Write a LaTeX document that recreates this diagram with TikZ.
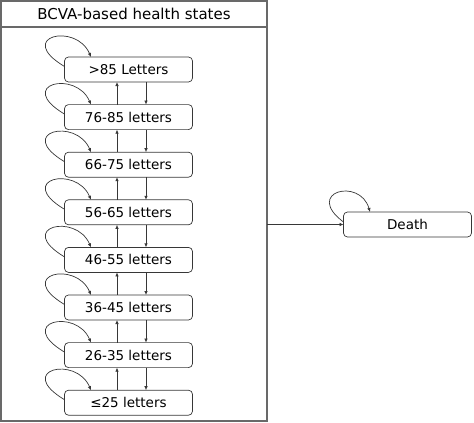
\documentclass[tikz,border=0pt]{standalone}
\usepackage{fontspec}
\setmainfont{DejaVu Sans}
\usetikzlibrary{arrows.meta,positioning}
\definecolor{edge}{RGB}{55,55,55}
\definecolor{frame}{RGB}{105,105,105}

\begin{document}
\begin{tikzpicture}[
    x=1pt, y=1pt,
    node distance=22.6pt,
    state/.style={rectangle, draw=edge, line width=0.7pt, rounded corners=4pt, minimum width=128pt, minimum height=25pt, inner sep=0pt, outer sep=0pt, font=\fontsize{13.5}{16}\selectfont},
    panelbox/.style={rectangle, draw=frame, line width=1.2pt, minimum width=266pt, minimum height=420pt, inner sep=0pt, outer sep=0pt},
    link/.style={draw=edge, line width=0.7pt, -{Latex[length=4pt,width=3.5pt]}}
]
    \useasboundingbox (0,0) rectangle (474,-423);

    % outer panel with header
    \node[panelbox] (panel) at (134,-211) {};
    \draw[frame, line width=1.2pt] ([yshift=-26pt]panel.north west) -- ([yshift=-26pt]panel.north east);
    \node[font=\fontsize{15}{18}\selectfont] (title) at (134,-14) {BCVA-based health states};

    % health states
    \node[state] (s1) at (128.5,-69.5) {>85 Letters};
    \node[state, below=of s1] (s2) {76-85 letters};
    \node[state, below=of s2] (s3) {66-75 letters};
    \node[state, below=of s3] (s4) {56-65 letters};
    \node[state, below=of s4] (s5) {46-55 letters};
    \node[state, below=of s5] (s6) {36-45 letters};
    \node[state, below=of s6] (s7) {26-35 letters};
    \node[state, below=of s7] (s8) {≤25 letters};

    \node[state] (death) at (407.5,-224.5) {Death};

    % transitions between neighbours
    \foreach \up/\lo in {s1/s2, s2/s3, s3/s4, s4/s5, s5/s6, s6/s7, s7/s8} {
        \draw[link] ([xshift=-11.5pt]\lo.north) -- ([xshift=-11.5pt]\up.south);
        \draw[link] ([xshift=17.5pt]\up.south) -- ([xshift=17.5pt]\lo.north);
    }

    % staying in the same state
    \foreach \s in {s1, s2, s3, s4, s5, s6, s7, s8} {
        \draw[link] ([yshift=3pt]\s.west) .. controls +(-50,30) and +(-15,35) .. ([xshift=-37.5pt]\s.north);
    }
    \draw[link] ([yshift=2.5pt]death.west) .. controls +(-40,30) and +(-10,35) .. ([xshift=-37.5pt]death.north);

    % to death
    \draw[link] (panel.east |- death.west) -- (death.west);
\end{tikzpicture}
\end{document}
